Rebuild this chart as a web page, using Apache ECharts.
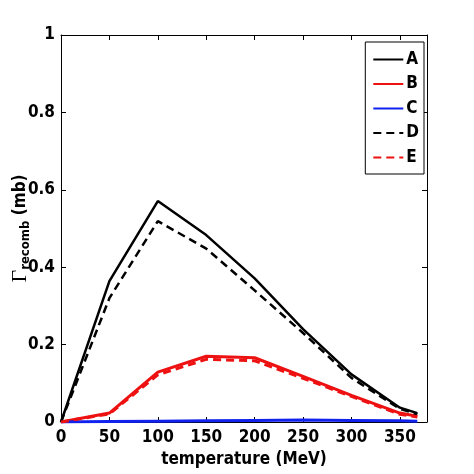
<!DOCTYPE html>
<html>
<head>
<meta charset="utf-8">
<script src="https://cdn.jsdelivr.net/npm/echarts@6/dist/echarts.min.js"></script>
<style>
  html, body { margin: 0; padding: 0; background: #fff; }
  #chart { width: 474px; height: 474px; }
</style>
</head>
<body>
<div id="chart"></div>
<script>
// ===== data =====
const temps = [0, 50, 100, 150, 200, 250, 300, 350, 368];
const seriesA = [0, 0.364, 0.571, 0.483, 0.371, 0.240, 0.123, 0.037, 0.023];
const seriesB = [0, 0.023, 0.129, 0.170, 0.166, 0.118, 0.069, 0.023, 0.015];
const seriesC = [0, 0.001, 0.002, 0.003, 0.004, 0.005, 0.004, 0.003, 0.002];
const seriesD = [0, 0.320, 0.519, 0.448, 0.340, 0.230, 0.114, 0.034, 0.020];
const seriesE = [0, 0.021, 0.122, 0.162, 0.158, 0.113, 0.066, 0.020, 0.013];
const names = ['A', 'B', 'C', 'D', 'E'];

const FONT = '"Liberation Sans Narrow", "DejaVu Sans Condensed", "Liberation Sans", sans-serif';

function pairs(ys) {
  return temps.map((t, i) => [t, ys[i]]);
}

function lineSeries(name, ys, color, width, dashed) {
  return {
    name: name,
    type: 'line',
    data: pairs(ys),
    symbol: 'none',
    xAxisIndex: 0,
    yAxisIndex: 0,
    lineStyle: { color: color, width: width, type: dashed ? [8, 5] : 'solid' },
    itemStyle: { color: color },
    animation: false
  };
}

const chart = echarts.init(document.getElementById('chart'));

// box round the plot like matlab: ticks point inward on all four sides
const baseAxis = {
  axisLine: { show: true, onZero: false, lineStyle: { color: '#000', width: 1 } },
  axisTick: { show: true, inside: true, length: 5, lineStyle: { color: '#000' } },
  splitLine: { show: false }
};

chart.setOption({
  backgroundColor: '#fff',
  grid: { left: 61, right: 47, top: 35, bottom: 52, outerBoundsMode: 'none', containLabel: false },
  legend: {
    data: names,
    orient: 'vertical',
    right: 50,
    top: 42,
    itemWidth: 30,
    itemHeight: 14,
    itemGap: 7.5,
    padding: [9, 5, 8, 7],
    borderColor: '#000',
    borderWidth: 1,
    backgroundColor: '#fff',
    itemStyle: { opacity: 0 },
    textStyle: { fontFamily: FONT, fontWeight: 'bold', fontSize: 17, color: '#000', padding: [0, 0, 0, -2] }
  },
  xAxis: [
    Object.assign({}, baseAxis, {
      type: 'value',
      min: 0,
      max: 378,
      interval: 50,
      position: 'bottom',
      name: 'temperature (MeV)',
      nameLocation: 'middle',
      nameGap: 29,
      nameMoveOverlap: false,
      nameTextStyle: { fontFamily: FONT, fontWeight: 'bold', fontSize: 17, color: '#000' },
      axisLabel: {
        fontFamily: FONT, fontWeight: 'bold', fontSize: 17, color: '#000', margin: 7,
        formatter: v => (v % 50 === 0 ? String(v) : '')
      }
    }),
    Object.assign({}, baseAxis, {
      type: 'value',
      min: 0,
      max: 378,
      interval: 50,
      position: 'top',
      axisLabel: { show: false }
    })
  ],
  yAxis: [
    Object.assign({}, baseAxis, {
      type: 'value',
      min: 0,
      max: 1,
      interval: 0.2,
      position: 'left',
      name: '{g|Γ}{s|recomb}{b| (mb)}',
      nameLocation: 'middle',
      nameGap: 29,
      nameRotate: 90,
      nameMoveOverlap: false,
      nameTextStyle: {
        color: '#000',
        rich: {
          g: { fontFamily: '"Liberation Serif", "DejaVu Serif", serif', fontSize: 22, color: '#000' },
          s: { fontFamily: FONT, fontWeight: 'bold', fontSize: 13, color: '#000', padding: [10, 0, 0, 0] },
          b: { fontFamily: FONT, fontWeight: 'bold', fontSize: 17, color: '#000' }
        }
      },
      axisLabel: { fontFamily: FONT, fontWeight: 'bold', fontSize: 17, color: '#000', margin: 6 }
    }),
    Object.assign({}, baseAxis, {
      type: 'value',
      min: 0,
      max: 1,
      interval: 0.2,
      position: 'right',
      axisLabel: { show: false }
    })
  ],
  series: [
    lineSeries('A', seriesA, '#000000', 2.5, false),
    lineSeries('B', seriesB, '#ee1111', 3, false),
    lineSeries('C', seriesC, '#1122ee', 3, false),
    lineSeries('D', seriesD, '#000000', 2.5, true),
    lineSeries('E', seriesE, '#ee1111', 3, true)
  ]
});
</script>
</body>
</html>
